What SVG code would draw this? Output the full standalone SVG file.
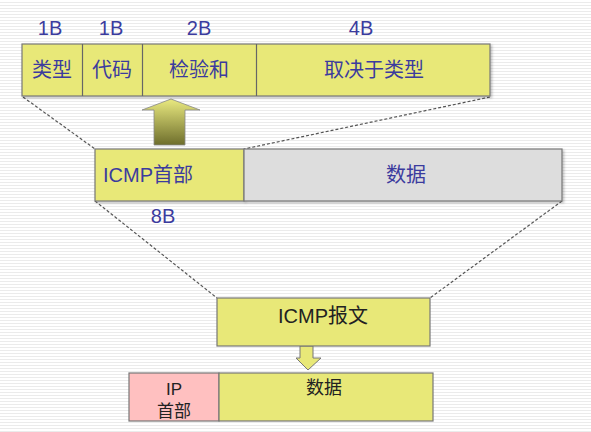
<svg xmlns="http://www.w3.org/2000/svg" width="591" height="432" viewBox="0 0 591 432">
<defs>
<pattern id="bg" width="4" height="3" patternUnits="userSpaceOnUse">
<rect width="4" height="3" fill="#ffffff"/>
<rect y="2" width="4" height="1" fill="#ebebeb"/>
</pattern>
<linearGradient id="ag" x1="0" y1="0" x2="0" y2="1">
<stop offset="0" stop-color="#eaea80"/>
<stop offset="1" stop-color="#6e6e2c"/>
</linearGradient>
<filter id="sh" x="-5%" y="-5%" width="110%" height="120%">
<feDropShadow dx="1.5" dy="1.5" stdDeviation="0.8" flood-color="#000" flood-opacity="0.25"/>
</filter>
</defs>
<style>
.y{fill:#e8e878;stroke:#777;stroke-width:1.2}
.g{fill:#dddddd;stroke:#777;stroke-width:1.2}
.p{fill:#ffc0c0;stroke:#777;stroke-width:1.2}
.d{stroke:#555;stroke-width:1.2;stroke-dasharray:3 2;fill:none}
text{font-family:"Liberation Sans","Noto Sans CJK SC",sans-serif;text-anchor:middle}
.b{fill:#3b3b9e;font-size:20px}
.k{fill:#222;font-size:18px}
</style>
<rect width="591" height="432" fill="url(#bg)"/>
<g id="connectors">
<line class="d" x1="23" y1="97" x2="95" y2="149"/>
<line class="d" x1="490" y1="97" x2="244" y2="149"/>
<line class="d" x1="95" y1="201" x2="217" y2="298"/>
<line class="d" x1="562" y1="201" x2="430" y2="298"/>
<path d="M171,99 L200,110 L185,110 L185,145 L154,145 L154,110 L142,110 Z" fill="url(#ag)" stroke="#888" stroke-width="0.8"/>
<path d="M300,346 L313,346 L313,358 L321,358 L308,370 L296,358 L300,358 Z" fill="#e8e878" stroke="#777" stroke-width="1"/>
</g>
<g id="sizes">
<text class="b" x="50" y="35">1B</text>
<text class="b" x="111" y="35">1B</text>
<text class="b" x="199" y="35">2B</text>
<text class="b" x="361" y="35">4B</text>
</g>
<g id="header" filter="url(#sh)">
<rect class="y" x="22" y="44" width="468" height="52"/>
<line x1="82.5" y1="44" x2="82.5" y2="96" stroke="#666" stroke-width="1.2"/>
<line x1="142.5" y1="44" x2="142.5" y2="96" stroke="#666" stroke-width="1.2"/>
<line x1="256.5" y1="44" x2="256.5" y2="96" stroke="#666" stroke-width="1.2"/>
</g>
<g id="type"><text class="b" x="52" y="77">类型</text></g>
<g id="code"><text class="b" x="112" y="77">代码</text></g>
<g id="checksum"><text class="b" x="199" y="77">检验和</text></g>
<g id="depends"><text class="b" x="374" y="77">取决于类型</text></g>
<g id="icmp-header">
<rect class="y" x="95" y="149" width="149" height="52" filter="url(#sh)"/>
<text class="b" x="103" y="182" style="text-anchor:start">ICMP首部</text>
<text class="b" x="163" y="223">8B</text>
</g>
<g id="icmp-data">
<rect class="g" x="244" y="149" width="318" height="52" filter="url(#sh)"/>
<text class="b" x="406" y="182">数据</text>
</g>
<g id="icmp-message">
<rect class="y" x="217" y="298" width="213" height="48"/>
<text class="k" x="323" y="323" style="font-size:20px">ICMP报文</text>
</g>
<g id="ip-header">
<rect class="p" x="129" y="373" width="90" height="48"/>
<text class="k" x="174" y="395" style="font-size:17px">IP</text>
<text class="k" x="174" y="417" style="font-size:17px">首部</text>
</g>
<g id="ip-data">
<rect class="y" x="219" y="373" width="214" height="48"/>
<text class="k" x="324" y="394" style="font-size:18px">数据</text>
</g>
</svg>
